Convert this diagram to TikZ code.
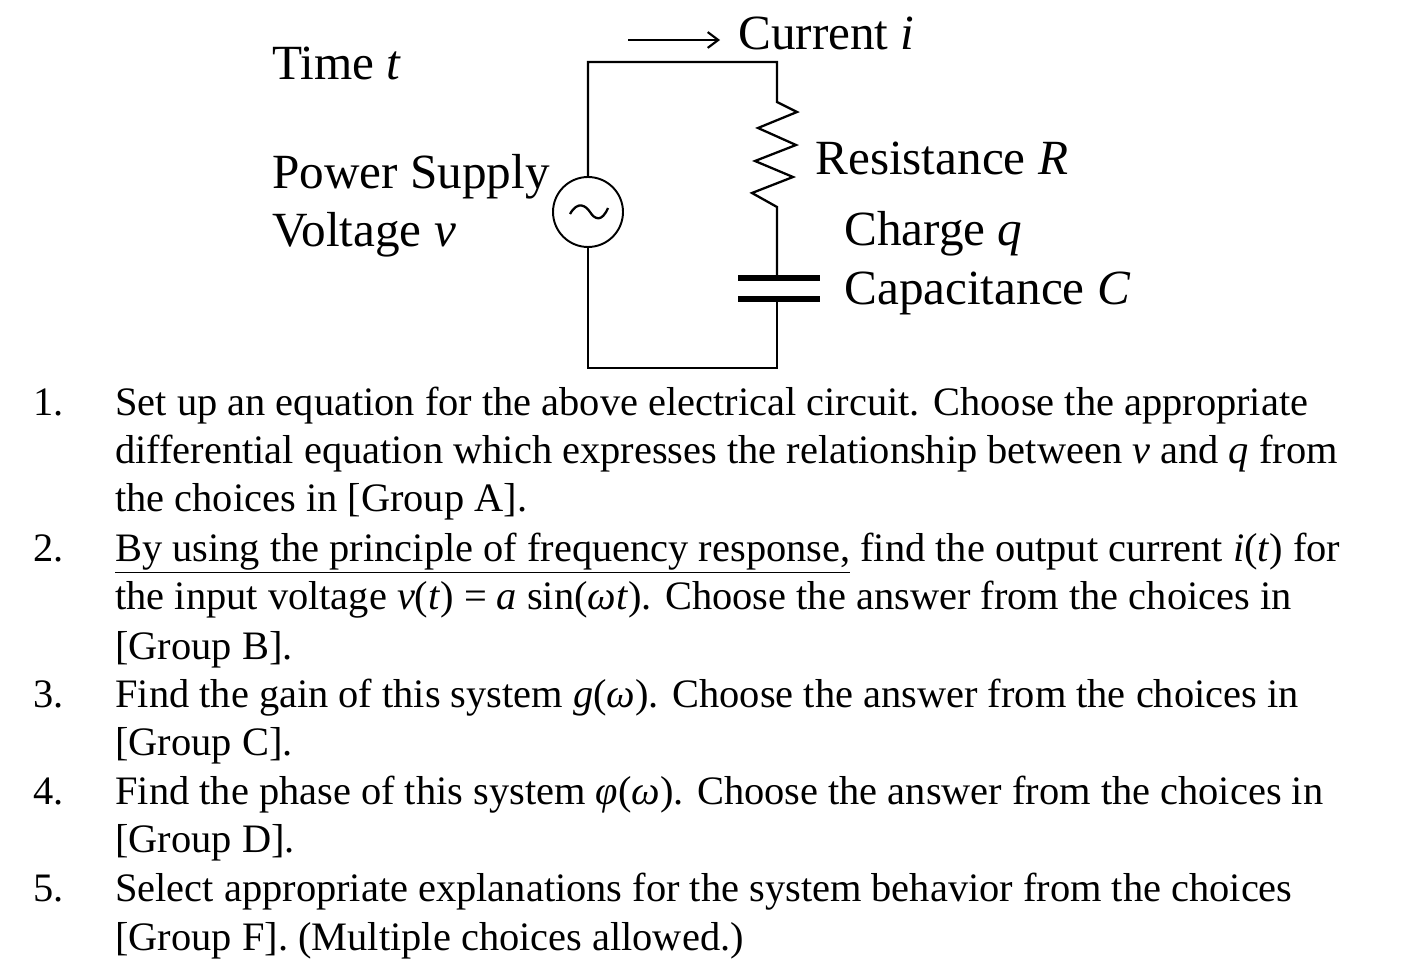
\documentclass[tikz,border=0pt]{standalone}
\usepackage{fontspec}
\setmainfont{Liberation Serif}
\usetikzlibrary{arrows.meta}
\begin{document}
\begin{tikzpicture}[x=0.02cm,y=-0.02cm,
  wire/.style={line width=1.3pt},
  big/.style={anchor=base west,inner sep=0pt,font=\fontsize{28}{30}\selectfont},
  body/.style={anchor=base west,inner sep=0pt,font=\fontsize{23}{25}\selectfont}]
\useasboundingbox (0,0) rectangle (1420,966);
% circuit
\coordinate (tl) at (588,62); \coordinate (tr) at (777,62);
\coordinate (bl) at (588,368); \coordinate (br) at (777,368);
\node[circle,draw,line width=1.1pt,inner sep=0pt,minimum size=1.4cm] (src) at (588,212) {};
\draw[line width=1.3pt] (570,214) .. controls (578,200) and (586,206) .. (590,212) .. controls (595,220) and (602,222) .. (608,208);
\coordinate (r1) at (777,102); \coordinate (r2) at (777,207);
\coordinate (c1) at (777,278); \coordinate (c2) at (777,299);
\draw[wire] (src.north) -- (tl) -- (tr) -- (r1) -- (797,112) -- (758,128) -- (796,145) -- (755,161) -- (793,177) -- (752,193) -- (r2) -- (c1);
\draw[wire] (c2) -- (br) -- (bl) -- (src.south);
\draw[line width=3.2pt] (738,278) -- (820,278) (738,299) -- (820,299);
\coordinate (a1) at (628,40); \coordinate (a2) at (720,40);
\draw[line width=1.2pt,-{Straight Barb[length=6pt,width=9pt]}] (a1) -- (a2);
% labels
\node[big] (lt) at (272,80) {Time \textit{t}};
\node[big] (lc) at (738,50) {Current \textit{i}};
\node[big] (lr) at (815,175) {Resistance \textit{R}};
\node[big] (lp) at (272,189) {Power Supply};
\node[big] (lv) at (272,247) {Voltage \textit{v}};
\node[big] (lq) at (844,246) {Charge \textit{q}};
\node[big] (lcap) at (844,304) {Capacitance \textit{C}};
% numbered list
\node[body] (n1) at (33,415) {1.};
\node[body] (n2) at (33,561) {2.};
\node[body] (n3) at (33,707) {3.};
\node[body] (n4) at (33,804) {4.};
\node[body] (n5) at (33,901) {5.};
\node[body] (t1) at (115,415) {Set up an equation for the above electrical circuit. Choose the appropriate};
\node[body] (t2) at (115,463) {differential equation which expresses the relationship between \textit{v} and \textit{q} from};
\node[body] (t3) at (115,511) {the choices in [Group A].};
\node[body] (t4) at (115,561) {\underline{By using the principle of frequency response,} find the output current \textit{i}(\textit{t}) for};
\node[body] (t5) at (115,609) {the input voltage \textit{v}(\textit{t}) = \textit{a} sin(\textit{ωt}). Choose the answer from the choices in};
\node[body] (t6) at (115,659) {[Group B].};
\node[body] (t7) at (115,707) {Find the gain of this system \textit{g}(\textit{ω}). Choose the answer from the choices in};
\node[body] (t8) at (115,755) {[Group C].};
\node[body] (t9) at (115,804) {Find the phase of this system \textit{φ}(\textit{ω}). Choose the answer from the choices in};
\node[body] (t10) at (115,852) {[Group D].};
\node[body] (t11) at (115,901) {Select appropriate explanations for the system behavior from the choices};
\node[body] (t12) at (115,950) {[Group F]. (Multiple choices allowed.)};
\end{tikzpicture}
\end{document}
